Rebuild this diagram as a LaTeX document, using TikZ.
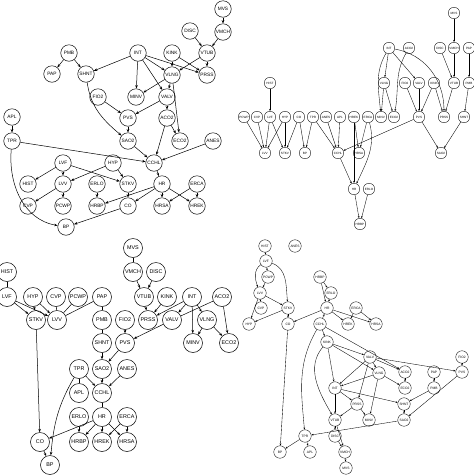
\documentclass[tikz,border=0pt]{standalone}
\usepackage{fontspec}
\setmainfont{Liberation Sans}
\usetikzlibrary{arrows.meta}

\tikzset{
  bignode/.style={draw, circle, minimum size=16.5pt, inner sep=0pt, line width=0.5pt, font=\fontsize{4.8}{5}\selectfont},
  midnode/.style={draw, circle, minimum size=19pt, inner sep=0pt, line width=0.5pt, font=\fontsize{5.4}{6}\selectfont},
  tinynode/.style={draw, circle, minimum size=11.5pt, inner sep=0pt, line width=0.35pt, font=\fontsize{3.1}{3.5}\selectfont},
  smallnode/.style={draw, circle, minimum size=12.5pt, inner sep=0pt, line width=0.35pt, font=\fontsize{3.3}{4}\selectfont},
  bigarc/.style={line width=0.5pt, -{Stealth[length=3.4pt,width=2.6pt]}},
  bigline/.style={line width=0.5pt},
  tinyarc/.style={line width=0.35pt, -{Stealth[length=2.2pt,width=1.7pt]}},
}

\begin{document}
\begin{tikzpicture}[x=1pt, y=-1pt]
  \useasboundingbox (0,0) rectangle (474,475);
  % Nodes, upper left
  \node[bignode] (aMVS) at (223,9) {MVS};
  \node[bignode] (aVMCH) at (223,32) {VMCH};
  \node[bignode] (aDISC) at (190,31) {DISC};
  \node[bignode] (aVTUB) at (207,53) {VTUB};
  \node[bignode] (aPMB) at (69,53) {PMB};
  \node[bignode] (aINT) at (138,53) {INT};
  \node[bignode] (aKINK) at (172,53) {KINK};
  \node[bignode] (aPAP) at (52,74) {PAP};
  \node[bignode] (aSHNT) at (86,74) {SHNT};
  \node[bignode] (aVLNG) at (172,75) {VLNG};
  \node[bignode] (aPRSS) at (207,75) {PRSS};
  \node[bignode] (aFIO2) at (98,97) {FIO2};
  \node[bignode] (aMINV) at (136,97) {MINV};
  \node[bignode] (aVALV) at (167,97) {VALV};
  \node[bignode] (aAPL) at (12,117) {APL};
  \node[bignode] (aPVS) at (128,118) {PVS};
  \node[bignode] (aACO2) at (167,118) {ACO2};
  \node[bignode] (aTPR) at (12,141) {TPR};
  \node[bignode] (aSAO2) at (128,141) {SAO2};
  \node[bignode] (aECO2) at (180,141) {ECO2};
  \node[bignode] (aANES) at (213,141) {ANES};
  \node[bignode] (aLVF) at (63,163) {LVF};
  \node[bignode] (aHYP) at (113,163) {HYP};
  \node[bignode] (aCCHL) at (154,163) {CCHL};
  \node[bignode] (aHIST) at (28,184) {HIST};
  \node[bignode] (aLVV) at (63,184) {LVV};
  \node[bignode] (aERLO) at (97,184) {ERLO};
  \node[bignode] (aSTKV) at (128,184) {STKV};
  \node[bignode] (aHR) at (162,184) {HR};
  \node[bignode] (aERCA) at (197,184) {ERCA};
  \node[bignode] (aCVP) at (28,206) {CVP};
  \node[bignode] (aPCWP) at (63,206) {PCWP};
  \node[bignode] (aHRBP) at (97,206) {HRBP};
  \node[bignode] (aCO) at (128,206) {CO};
  \node[bignode] (aHRSA) at (162,206) {HRSA};
  \node[bignode] (aHREK) at (197,206) {HREK};
  \node[bignode] (aBP) at (66,227) {BP};
  % Edges, upper left
  \path[bigarc] (aMVS) edge (aVMCH);
  \path[bigarc] (aVMCH) edge (aVTUB);
  \path[bigarc] (aDISC) edge (aVTUB);
  \path[bigarc] (aVTUB) edge (aPRSS) edge (aVLNG);
  \path[bigarc] (aKINK) edge (aVLNG) edge (aPRSS);
  \path[bigarc] (aINT) edge (aSHNT) edge (aMINV) edge (aVLNG) edge (aPRSS) edge (aVALV);
  \path[bigarc] (aPMB) edge (aPAP) edge (aSHNT);
  \path[bigarc] (aVLNG) edge (aMINV) edge (aVALV) edge (aECO2);
  \path[bigarc] (aVALV) edge (aPVS) edge (aACO2);
  \path[bigarc] (aFIO2) edge (aPVS);
  \draw[bigarc] (aSHNT) to[out=-82, in=140] (aSAO2);
  \path[bigarc] (aPVS) edge (aSAO2);
  \path[bigarc] (aACO2) edge (aECO2) edge (aCCHL);
  \path[bigarc] (aSAO2) edge (aCCHL);
  \path[bigarc] (aANES) edge (aCCHL);
  \path[bigarc] (aTPR) edge (aCCHL);
  \path[bigarc] (aAPL) edge (aTPR);
  \draw[bigarc] (aTPR) to[out=-95, in=170] (aBP);
  \path[bigarc] (aCCHL) edge (aHR);
  \path[bigarc] (aLVF) edge (aHIST) edge (aLVV) edge (aSTKV);
  \path[bigarc] (aHYP) edge (aLVV) edge (aSTKV);
  \path[bigarc] (aLVV) edge (aCVP) edge (aPCWP);
  \path[bigarc] (aERLO) edge (aHRBP);
  \path[bigarc] (aSTKV) edge (aCO);
  \path[bigarc] (aHR) edge (aHRBP) edge (aCO) edge (aHRSA) edge (aHREK);
  \path[bigarc] (aERCA) edge (aHRSA) edge (aHREK);
  \path[bigarc] (aCO) edge (aBP);

  % Nodes, upper right
  \node[tinynode] (bMVS) at (454,13) {MVS};
  \node[tinynode] (bINT) at (389,48) {INT};
  \node[tinynode] (bACO2) at (409,48) {ACO2};
  \node[tinynode] (bDISC) at (440,48) {DISC};
  \node[tinynode] (bVMCH) at (454,48) {VMCH};
  \node[tinynode] (bPAP) at (469,48) {PAP};
  \node[tinynode] (bHIST) at (270,83) {HIST};
  \node[tinynode] (bVLNG) at (384,83) {VLNG};
  \node[tinynode] (bFIO2) at (405,83) {FIO2};
  \node[tinynode] (bVALV) at (419,83) {VALV};
  \node[tinynode] (bKINK) at (434,83) {KINK};
  \node[tinynode] (bVTUB) at (454,83) {VTUB};
  \node[tinynode] (bPMB) at (469,83) {PMB};
  \node[tinynode] (bPCWP) at (244,117) {PCWP};
  \node[tinynode] (bCVP) at (257,117) {CVP};
  \node[tinynode] (bLVF) at (270,117) {LVF};
  \node[tinynode] (bHYP) at (285,117) {HYP};
  \node[tinynode] (bCO) at (299,117) {CO};
  \node[tinynode] (bTPR) at (313,117) {TPR};
  \node[tinynode] (bANES) at (326,117) {ANES};
  \node[tinynode] (bAPL) at (340,117) {APL};
  \node[tinynode] (bHREK) at (354,117) {HREK};
  \node[tinynode] (bERCA) at (368,117) {ERCA};
  \node[tinynode] (bMINV) at (381,117) {MINV};
  \node[tinynode] (bECO2) at (394,117) {ECO2};
  \node[tinynode] (bPVS) at (419,117) {PVS};
  \node[tinynode] (bPRSS) at (444,117) {PRSS};
  \node[tinynode] (bSHNT) at (464,117) {SHNT};
  \node[tinynode] (bLVV) at (265,153) {LVV};
  \node[tinynode] (bSTKV) at (285,153) {STKV};
  \node[tinynode] (bBP) at (305,153) {BP};
  \node[tinynode] (bCCHL) at (338,153) {CCHL};
  \node[tinynode] (bHRSA) at (359,153) {HRSA};
  \node[tinynode] (bSAO2) at (441,153) {SAO2};
  \node[tinynode] (bHR) at (354,189) {HR};
  \node[tinynode] (bERLO) at (369,189) {ERLO};
  \node[tinynode] (bHRBP) at (360,224) {HRBP};
  % Edges, upper right
  \path[tinyarc] (bMVS) edge (bVMCH);
  \path[tinyarc] (bDISC) edge (bVTUB);
  \path[tinyarc] (bVMCH) edge (bVTUB);
  \path[tinyarc] (bPAP) edge (bPMB);
  \path[tinyarc] (bPMB) edge (bSHNT);
  \path[tinyarc] (bINT) edge (bVLNG) edge (bVALV);
  \draw[tinyarc] (bINT) to[out=240, in=95] (bMINV);
  \draw[tinyarc] (bINT) to[out=-10, in=90] (bPRSS);
  \draw[tinyarc] (bACO2) to[out=240, in=80] (bECO2);
  \path[tinyarc] (bVLNG) edge (bMINV) edge (bECO2);
  \path[tinyarc] (bFIO2) edge (bPVS);
  \path[tinyarc] (bVALV) edge (bPVS);
  \path[tinyarc] (bKINK) edge (bPVS) edge (bPRSS);
  \path[tinyarc] (bVTUB) edge (bPRSS);
  \path[tinyarc] (bHIST) edge (bLVF);
  \path[tinyarc] (bPCWP) edge (bLVV);
  \path[tinyarc] (bCVP) edge (bLVV);
  \path[tinyarc] (bLVF) edge (bLVV) edge (bSTKV);
  \path[tinyarc] (bHYP) edge (bLVV) edge (bSTKV);
  \path[tinyarc] (bCO) edge (bSTKV) edge (bBP);
  \path[tinyarc] (bTPR) edge (bBP) edge (bCCHL);
  \path[tinyarc] (bANES) edge (bCCHL);
  \path[tinyarc] (bAPL) edge (bCCHL);
  \path[tinyarc] (bHREK) edge (bHRSA) edge (bHR);
  \path[tinyarc] (bERCA) edge (bHRSA);
  \draw[tinyarc] (bERCA) to[out=-75, in=65] (bHR);
  \path[tinyarc] (bPVS) edge (bCCHL) edge (bSAO2);
  \path[tinyarc] (bSHNT) edge (bSAO2);
  \path[tinyarc] (bCCHL) edge (bHR);
  \path[tinyarc] (bHR) edge (bHRBP);
  \path[tinyarc] (bERLO) edge (bHRBP);

  % Nodes, lower left
  \node[midnode] (cMVS) at (133,248) {MVS};
  \node[midnode] (cHIST) at (7,272) {HIST};
  \node[midnode] (cVMCH) at (133,272) {VMCH};
  \node[midnode] (cDISC) at (156,272) {DISC};
  \node[midnode] (cLVF) at (7,297) {LVF};
  \node[midnode] (cHYP) at (33,297) {HYP};
  \node[midnode] (cCVP) at (56,297) {CVP};
  \node[midnode] (cPCWP) at (78,297) {PCWP};
  \node[midnode] (cPAP) at (102,297) {PAP};
  \node[midnode] (cVTUB) at (144,297) {VTUB};
  \node[midnode] (cKINK) at (167,297) {KINK};
  \node[midnode] (cINT) at (192,297) {INT};
  \node[midnode] (cACO2) at (222,297) {ACO2};
  \node[midnode] (cSTKV) at (36,320) {STKV};
  \node[midnode] (cLVV) at (57,320) {LVV};
  \node[midnode] (cPMB) at (102,320) {PMB};
  \node[midnode] (cFIO2) at (125,320) {FIO2};
  \node[midnode] (cPRSS) at (148,320) {PRSS};
  \node[midnode] (cVALV) at (172,320) {VALV};
  \node[midnode] (cVLNG) at (207,320) {VLNG};
  \node[midnode] (cSHNT) at (102,343) {SHNT};
  \node[midnode] (cPVS) at (125,343) {PVS};
  \node[midnode] (cMINV) at (193,343) {MINV};
  \node[midnode] (cECO2) at (229,343) {ECO2};
  \node[midnode] (cTPR) at (79,369) {TPR};
  \node[midnode] (cSAO2) at (102,369) {SAO2};
  \node[midnode] (cANES) at (127,369) {ANES};
  \node[midnode] (cAPL) at (79,393) {APL};
  \node[midnode] (cCCHL) at (102,393) {CCHL};
  \node[midnode] (cERLO) at (79,417) {ERLO};
  \node[midnode] (cHR) at (102,417) {HR};
  \node[midnode] (cERCA) at (127,417) {ERCA};
  \node[midnode] (cCO) at (40,442) {CO};
  \node[midnode] (cHRBP) at (79,442) {HRBP};
  \node[midnode] (cHREK) at (102,442) {HREK};
  \node[midnode] (cHRSA) at (127,442) {HRSA};
  \node[midnode] (cBP) at (50,465) {BP};
  % Edges, lower left
  \draw[bigline] (cMVS) -- (cVMCH);
  \path[bigarc] (cVMCH) edge (cVTUB);
  \path[bigarc] (cDISC) edge (cVTUB);
  \path[bigarc] (cVTUB) edge (cPRSS);
  \path[bigarc] (cKINK) edge (cPRSS);
  \path[bigarc] (cINT) edge (cPRSS) edge (cVALV) edge (cMINV) edge (cVLNG);
  \draw[bigline] (cACO2) -- (cVALV);
  \path[bigarc] (cACO2) edge (cECO2);
  \path[bigarc] (cVLNG) edge (cMINV) edge (cECO2);
  \path[bigarc] (cVALV) edge (cPVS);
  \path[bigarc] (cFIO2) edge (cPVS);
  \draw[bigline] (cPAP) -- (cPMB) -- (cSHNT);
  \path[bigarc] (cSHNT) edge (cSAO2);
  \path[bigarc] (cPVS) edge (cSAO2);
  \draw[bigline] (cTPR) -- (cAPL);
  \path[bigarc] (cTPR) edge (cCCHL);
  \path[bigarc] (cSAO2) edge (cCCHL);
  \path[bigarc] (cANES) edge (cCCHL);
  \draw[bigline] (cCCHL) -- (cHR);
  \path[bigarc] (cHR) edge (cHRBP) edge (cHREK) edge (cHRSA) edge (cCO);
  \path[bigarc] (cERLO) edge (cHRBP);
  \path[bigarc] (cERCA) edge (cHREK) edge (cHRSA);
  \path[bigarc] (cCO) edge (cBP);
  \draw[bigarc] (cTPR) to[out=240, in=85] (cBP);
  \path[bigarc] (cSTKV) edge (cCO);
  \path[bigarc] (cLVF) edge (cSTKV) edge (cLVV);
  \path[bigarc] (cHYP) edge (cSTKV) edge (cLVV);
  \draw[bigline] (cHIST) -- (cLVF);
  \draw[bigline] (cCVP) -- (cLVV);
  \draw[bigline] (cPCWP) -- (cLVV);
  \draw[bigline] (cPAP) -- (cLVV);

  % Nodes, lower right
  \node[smallnode] (dHIST) at (265,246) {HIST};
  \node[smallnode] (dANES) at (295,246) {ANES};
  \node[smallnode] (dLVF) at (266,261) {LVF};
  \node[smallnode] (dPCWP) at (268,277) {PCWP};
  \node[smallnode] (dHRBP) at (320,277) {HRBP};
  \node[smallnode] (dLVV) at (260,293) {LVV};
  \node[smallnode] (dERLO) at (331,293) {ERLO};
  \node[smallnode] (dCVP) at (261,308) {CVP};
  \node[smallnode] (dSTKV) at (288,308) {STKV};
  \node[smallnode] (dHR) at (327,308) {HR};
  \node[smallnode] (dERCA) at (356,308) {ERCA};
  \node[smallnode] (dHYP) at (249,324) {HYP};
  \node[smallnode] (dCO) at (288,324) {CO};
  \node[smallnode] (dCCHL) at (320,324) {CCHL};
  \node[smallnode] (dHREK) at (348,324) {HREK};
  \node[smallnode] (dHRSA) at (376,324) {HRSA};
  \node[smallnode] (dKINK) at (327,342) {KINK};
  \node[smallnode] (dVALV) at (370,357) {VALV};
  \node[smallnode] (dFIO2) at (462,357) {FIO2};
  \node[smallnode] (dACO2) at (405,372) {ACO2};
  \node[smallnode] (dPAP) at (434,372) {PAP};
  \node[smallnode] (dPVS) at (462,372) {PVS};
  \node[smallnode] (dVLNG) at (379,373) {VLNG};
  \node[smallnode] (dINT) at (335,388) {INT};
  \node[smallnode] (dECO2) at (405,388) {ECO2};
  \node[smallnode] (dPMB) at (434,388) {PMB};
  \node[smallnode] (dPRSS) at (357,404) {PRSS};
  \node[smallnode] (dSHNT) at (404,404) {SHNT};
  \node[smallnode] (dVTUB) at (335,420) {VTUB};
  \node[smallnode] (dMINV) at (369,420) {MINV};
  \node[smallnode] (dSAO2) at (404,420) {SAO2};
  \node[smallnode] (dTPR) at (305,436) {TPR};
  \node[smallnode] (dDISC) at (335,436) {DISC};
  \node[smallnode] (dBP) at (280,452) {BP};
  \node[smallnode] (dAPL) at (310,452) {APL};
  \node[smallnode] (dVMCH) at (345,452) {VMCH};
  \node[smallnode] (dMVS) at (346,468) {MVS};
  % Edges, lower right
  \path[tinyarc] (dHIST) edge (dLVF);
  \path[tinyarc] (dLVF) edge (dPCWP);
  \draw[tinyarc] (dLVF) to[out=215, in=110] (dLVV);
  \draw[tinyarc] (dLVF) to[out=-20, in=95] (dSTKV);
  \path[tinyarc] (dPCWP) edge (dLVV);
  \path[tinyarc] (dLVV) edge (dCVP) edge (dHYP) edge (dSTKV);
  \path[tinyarc] (dSTKV) edge (dCO) edge (dHYP);
  \path[tinyarc] (dHRBP) edge (dERLO) edge (dHR);
  \path[tinyarc] (dERLO) edge (dHR);
  \path[tinyarc] (dCCHL) edge (dHR);
  \path[tinyarc] (dHR) edge (dCO) edge (dHREK) edge (dHRSA);
  \path[tinyarc] (dERCA) edge (dHREK) edge (dHRSA);
  \path[tinyarc] (dCCHL) edge (dKINK) edge (dACO2);
  \draw[tinyarc] (dCCHL) to[out=240, in=95] (dTPR);
  \path[tinyarc] (dCO) edge (dBP);
  \path[tinyarc] (dKINK) edge (dVALV) edge (dVLNG) edge (dINT);
  \draw[tinyarc] (dKINK) to[out=230, in=120] (dVTUB);
  \path[tinyarc] (dVALV) edge (dACO2) edge (dPVS) edge (dINT) edge (dPRSS) edge (dVLNG);
  \path[tinyarc] (dVLNG) edge (dINT) edge (dECO2) edge (dMINV);
  \path[tinyarc] (dACO2) edge (dECO2);
  \path[tinyarc] (dINT) edge (dPRSS) edge (dVTUB) edge (dSHNT);
  \path[tinyarc] (dPRSS) edge (dVTUB) edge (dMINV);
  \path[tinyarc] (dPAP) edge (dPMB);
  \path[tinyarc] (dPMB) edge (dSHNT);
  \path[tinyarc] (dSHNT) edge (dSAO2);
  \path[tinyarc] (dFIO2) edge (dPVS);
  \path[tinyarc] (dPVS) edge (dSAO2);
  \path[tinyarc] (dSAO2) edge (dTPR);
  \path[tinyarc] (dVTUB) edge (dDISC) edge (dVMCH);
  \path[tinyarc] (dDISC) edge (dVMCH);
  \path[tinyarc] (dVMCH) edge (dMVS);
  \path[tinyarc] (dTPR) edge (dBP) edge (dAPL);
\end{tikzpicture}
\end{document}
